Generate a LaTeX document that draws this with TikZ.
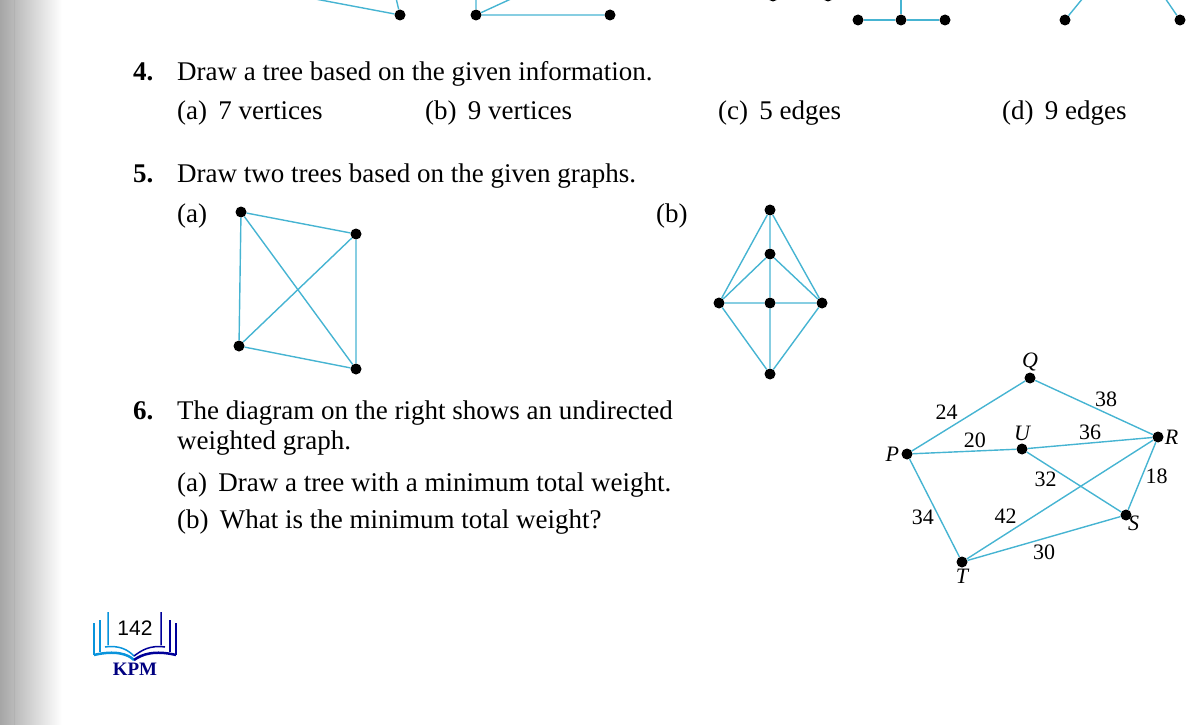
\documentclass[tikz,border=0pt]{standalone}
\usepackage{fontspec}
\usetikzlibrary{positioning}
\setmainfont{Liberation Serif}
\newfontfamily\sansf{Liberation Sans}
\definecolor{edc}{RGB}{70,180,210}
\begin{document}
\begin{tikzpicture}[x=1pt,y=-1pt,
  ed/.style={draw=edc, line width=1.4pt},
  vx/.style={circle,fill=black,inner sep=0pt,minimum size=11pt},
  tx/.style={anchor=base west,inner sep=0pt,font=\fontsize{27}{30}\selectfont},
  nm/.style={anchor=base west,inner sep=0pt,font=\bfseries\fontsize{27}{30}\selectfont},
  wl/.style={inner sep=1pt,font=\fontsize{22}{24}\selectfont},
  vl/.style={inner sep=1pt,font=\fontsize{22}{24}\selectfont\itshape}]
\useasboundingbox (0,0) rectangle (1200,725);
\fill[left color=gray!70,right color=white] (0,0) rectangle (62,725);
\draw[gray!60,line width=1pt] (14,0)--(14,725);
% top partial graphs
\node[vx] (a1) at (400,15) {}; \node[vx] (a2) at (476,15) {}; \node[vx] (a3) at (610,15) {};
\coordinate (c1) at (310,-2); \coordinate (c2) at (396,-2); \coordinate (c3) at (476,-2); \coordinate (c4) at (513,-2);
\draw[ed] (c1)--(a1) (c2)--(a1) (c3)--(a2) (c4)--(a2) (a2)--(a3);
\node[vx] (b0) at (773,-4) {}; \node[vx] (b00) at (828,-4) {};
\node[vx] (b1) at (858,20) {}; \node[vx] (b2) at (901,20) {}; \node[vx] (b3) at (945,20) {};
\coordinate (c5) at (901,-2);
\draw[ed] (b1)--(b2)--(b3) (c5)--(b2);
\node[vx] (d1) at (1065,20) {}; \node[vx] (d2) at (1180,20) {};
\coordinate (c6) at (1083,-2); \coordinate (c7) at (1165,-2);
\draw[ed] (c6)--(d1) (c7)--(d2);
% text
\node[nm] (n4) at (133,81) {4.};
\node[tx] (t4) at (177,81) {Draw a tree based on the given information.};
\node[tx] (t4a) at (177,119) {(a)\, 7 vertices};
\node[tx] (t4b) at (425,119) {(b)\, 9 vertices};
\node[tx] (t4c) at (718,119) {(c)\, 5 edges};
\node[tx] (t4d) at (1002,119) {(d)\, 9 edges};
\node[nm] (n5) at (133,182) {5.};
\node[tx] (t5) at (177,182) {Draw two trees based on the given graphs.};
\node[tx] (t5a) at (177,222) {(a)};
\node[tx] (t5b) at (656,222) {(b)};
\node[nm] (n6) at (133,419) {6.};
\node[tx] (t6) at (177,419) {The diagram on the right shows an undirected};
\node[tx] (t6b) at (177,449) {weighted graph.};
\node[tx] (t6c) at (177,491) {(a)\, Draw a tree with a minimum total weight.};
\node[tx] (t6d) at (177,528) {(b)\, What is the minimum total weight?};
% graph 5a
\node[vx] (p1) at (241,212) {}; \node[vx] (p2) at (356,234) {};
\node[vx] (p3) at (239,346) {}; \node[vx] (p4) at (356,369) {};
\draw[ed] (p1)--(p2)--(p4)--(p3)--(p1) (p1)--(p4) (p2)--(p3);
% graph 5b
\node[vx] (q1) at (770,210) {}; \node[vx] (q2) at (770,254) {};
\node[vx] (q3) at (719,303) {}; \node[vx] (q4) at (770,303) {};
\node[vx] (q5) at (822,303) {}; \node[vx] (q6) at (770,374) {};
\draw[ed] (q1)--(q3)--(q6)--(q5)--(q1) (q1)--(q2)--(q4)--(q6) (q3)--(q4)--(q5) (q2)--(q3) (q2)--(q5);
% graph 6
\node[vx] (P) at (907,454) {}; \node[vx] (Q) at (1030,378) {};
\node[vx] (U) at (1022,449) {}; \node[vx] (R) at (1158,437) {};
\node[vx] (S) at (1126,515) {}; \node[vx] (T) at (962,562) {};
\draw[ed] (P)--(Q) node[wl,pos=0.42,above left=0pt] {24};
\draw[ed] (Q)--(R) node[wl,pos=0.5,above right=-1pt] {38};
\draw[ed] (P)--(U) node[wl,pos=0.6,above=2pt] {20};
\draw[ed] (U)--(R) node[wl,pos=0.5,above=2pt] {36};
\draw[ed] (U)--(S) node[wl,pos=0.2,below=6pt] {32};
\draw[ed] (R)--(S) node[wl,pos=0.5,right=2pt] {18};
\draw[ed] (P)--(T) node[wl,pos=0.6,left=4pt] {34};
\draw[ed] (T)--(R) node[wl,pos=0.28,above left=1pt] {42};
\draw[ed] (T)--(S) node[wl,pos=0.5,below=5pt] {30};
\node[vl,left=1pt of P] (lP) {P};
\node[vl,above=0pt of Q] (lQ) {Q};
\node[vl,above=1pt of U] (lU) {U};
\node[vl,right=0pt of R] (lR) {R};
\node[vl,below right=-4pt and -3pt of S] (lS) {S};
\node[vl,below=0pt of T] (lT) {T};
% logo
\draw[cyan!80!blue,line width=2pt] (94,623)--(94,655) (100,620)--(100,652);
\draw[blue!60!black,line width=2pt] (176,623)--(176,655) (170,620)--(170,652);
\draw[cyan!80!blue,line width=2.5pt] (94,655) .. controls (115,650) and (128,654) .. (134,660);
\draw[blue!60!black,line width=2.5pt] (176,655) .. controls (155,650) and (142,654) .. (134,660);
\draw[cyan!80!blue,line width=1.5pt] (105,647) .. controls (120,645) and (128,650) .. (134,656) (108,612)--(108,645);
\draw[blue!60!black,line width=1.5pt] (165,647) .. controls (150,645) and (142,650) .. (134,656) (161,612)--(161,645);
\node[inner sep=0pt,font=\sansf\fontsize{21}{22}\selectfont] (pg) at (135,628) {142};
\node[inner sep=0pt,font=\bfseries\fontsize{19}{20}\selectfont,text=blue!50!black] (kpm) at (135,669) {KPM};
\end{tikzpicture}
\end{document}
